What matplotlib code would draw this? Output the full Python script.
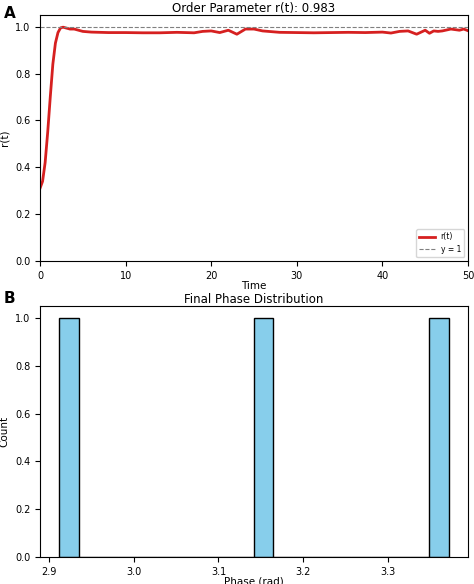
import matplotlib
matplotlib.use("Agg")
import matplotlib.pyplot as plt
import numpy as np

# order parameter r(t)
t_vals = [0, 0.3, 0.6, 0.9, 1.2, 1.5, 1.8, 2.1, 2.4, 2.7, 3.0, 3.5, 4, 5, 6, 8, 10, 12, 14, 16,
          18, 19, 20, 21, 22, 23, 24, 25, 26, 28, 30, 32, 34, 36, 38, 40, 41, 42, 43,
          44, 45, 45.5, 46, 46.5, 47, 48, 49, 49.5, 50]
r_vals = [0.31, 0.34, 0.42, 0.55, 0.70, 0.84, 0.93, 0.975, 0.995, 0.998, 0.995, 0.99, 0.99,
          0.98, 0.977, 0.975, 0.975, 0.974, 0.974, 0.976, 0.974, 0.98, 0.982, 0.975, 0.985,
          0.968, 0.99, 0.99, 0.982, 0.976, 0.975, 0.974, 0.975, 0.976, 0.975, 0.977,
          0.973, 0.98, 0.982, 0.968, 0.985, 0.972, 0.982, 0.98, 0.982, 0.99, 0.985, 0.99, 0.983]

# final phases of the three oscillators
phases = [2.912, 3.150, 3.372]
n_bins = 20

W, H = 474, 584
fig = plt.figure(figsize=(W / 100, H / 100), dpi=100)
ax1 = fig.add_axes([40 / W, 1 - 261 / H, 428 / W, 246 / H])
ax2 = fig.add_axes([40 / W, 1 - 557 / H, 428 / W, 251 / H])

ax1.plot(t_vals, r_vals, color="#d62020", linewidth=2, label="r(t)")
ax1.axhline(1, color="gray", linestyle="--", linewidth=0.8, label="y = 1")
ax1.set_xlim(0, 50)
ax1.set_ylim(0, 1.05)
ax1.set_xlabel("Time", fontsize=7.5, labelpad=0)
ax1.set_ylabel("r(t)", fontsize=7.5)
ax1.set_title("Order Parameter r(t): 0.983", fontsize=8.5, pad=2)
ax1.tick_params(labelsize=7)
ax1.legend(loc="lower right", fontsize=5.5)
fig.text(4 / W, 1 - 18 / H, "A", fontsize=11, fontweight="bold")

ax2.hist(phases, bins=n_bins, color="skyblue", edgecolor="black")
ax2.set_xlabel("Phase (rad)", fontsize=7.5, labelpad=0)
ax2.set_ylabel("Count", fontsize=7.5)
ax2.set_title("Final Phase Distribution", fontsize=8.5, pad=2)
ax2.tick_params(labelsize=7)
fig.text(4 / W, 1 - 303 / H, "B", fontsize=11, fontweight="bold")

fig.savefig("out.png")
